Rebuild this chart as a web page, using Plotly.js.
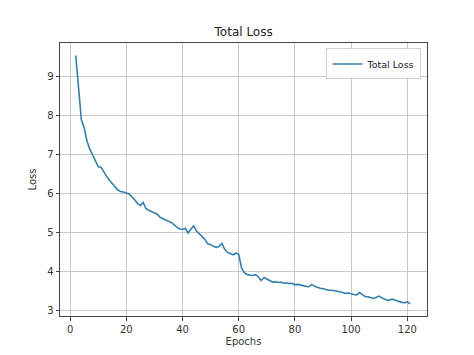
<!DOCTYPE html>
<html>
<head>
<meta charset="utf-8">
<script src="https://cdn.plot.ly/plotly-3.0.1.min.js"></script>
<style>html,body{margin:0;padding:0;background:#fff;}#chart{width:474px;height:355px;}</style>
</head>
<body>
<div id="chart"></div>
<script>
const epochs = [];
for (let e = 2; e <= 121; e++) epochs.push(e);
const totalLoss = [
  9.55, 8.6, 7.9, 7.7, 7.35, 7.15, 7.0, 6.85, 6.7, 6.68,
  6.55, 6.45, 6.35, 6.25, 6.18, 6.1, 6.06, 6.05, 6.03, 6.0,
  5.92, 5.85, 5.75, 5.7, 5.78, 5.62, 5.58, 5.55, 5.5, 5.48,
  5.4, 5.36, 5.33, 5.3, 5.27, 5.2, 5.15, 5.1, 5.09, 5.12,
  5.0, 5.1, 5.18, 5.05, 4.97, 4.9, 4.83, 4.72, 4.7, 4.66,
  4.63, 4.65, 4.73, 4.58, 4.5, 4.47, 4.44, 4.48, 4.45, 4.1,
  3.98, 3.93, 3.92, 3.91, 3.93, 3.87, 3.78, 3.86, 3.82, 3.77,
  3.74, 3.75, 3.73, 3.74, 3.71, 3.72, 3.7, 3.71, 3.67, 3.68,
  3.66, 3.65, 3.63, 3.62, 3.68, 3.63, 3.6, 3.58, 3.57, 3.55,
  3.53, 3.53, 3.52, 3.5, 3.49, 3.47, 3.45, 3.46, 3.43, 3.42,
  3.41, 3.47, 3.42, 3.37, 3.36, 3.33, 3.32, 3.35, 3.38, 3.33,
  3.3, 3.27, 3.29, 3.3, 3.27, 3.24, 3.22, 3.21, 3.23, 3.18
];
const xTicks = [0, 20, 40, 60, 80, 100, 120];
const yTicks = [3, 4, 5, 6, 7, 8, 9];

const font = "DejaVu Sans, Liberation Sans, sans-serif";
Plotly.newPlot('chart', [{
  x: epochs, y: totalLoss, type: 'scatter', mode: 'lines',
  name: 'Total Loss',
  line: {color: '#3580ab', width: 1.6}
}], {
  width: 474, height: 355,
  margin: {l: 60, r: 47, t: 43, b: 39},
  paper_bgcolor: '#fff', plot_bgcolor: '#fff',
  font: {family: font, size: 10, color: '#333'},
  title: {text: 'Total Loss', font: {family: font, size: 12, color: '#222'}, x: 0.514, xanchor: 'center', y: 0.91, yanchor: 'middle'},
  showlegend: true,
  legend: {x: 0.985, xanchor: 'right', y: 0.98, yanchor: 'top', bgcolor: 'rgba(255,255,255,0.9)', bordercolor: '#d0d0d0', borderwidth: 1, itemwidth: 30, font: {family: font, size: 9.5, color: '#222'}},
  xaxis: {
    range: [-3.6, 127], tickvals: xTicks, ticktext: xTicks.map(String),
    showgrid: true, gridcolor: '#c8c8c8', gridwidth: 1,
    zeroline: false, showline: true, linecolor: '#444', linewidth: 1, mirror: true,
    ticks: 'outside', ticklen: 3.5, tickcolor: '#444',
    title: {text: 'Epochs', font: {family: font, size: 10, color: '#333'}, standoff: 4}
  },
  yaxis: {
    range: [2.87, 9.87], tickvals: yTicks, ticktext: yTicks.map(String),
    showgrid: true, gridcolor: '#c8c8c8', gridwidth: 1,
    zeroline: false, showline: true, linecolor: '#444', linewidth: 1, mirror: true,
    ticks: 'outside', ticklen: 3.5, tickcolor: '#444',
    title: {text: 'Loss', font: {family: font, size: 10, color: '#333'}, standoff: 8}
  }
}, {displayModeBar: false, staticPlot: true});
</script>
</body>
</html>
